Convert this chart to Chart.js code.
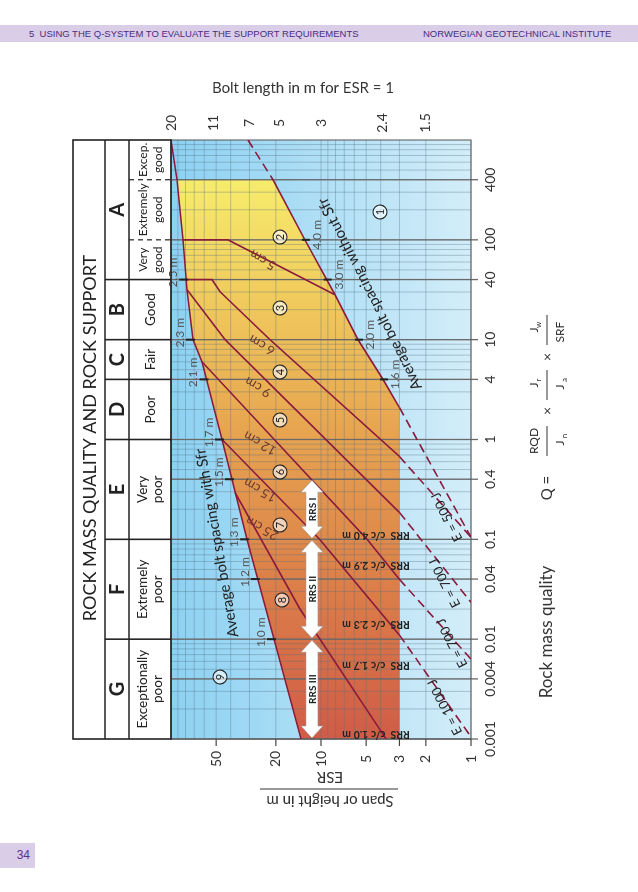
<!DOCTYPE html>
<html><head><meta charset="utf-8">
<script src="https://cdn.jsdelivr.net/npm/chart.js@4"></script>
<style>
html,body{margin:0;padding:0;width:638px;height:892px;overflow:hidden;background:#fff;font-family:Lato,"DejaVu Sans",sans-serif}
#rot{position:absolute;left:0;top:892px;width:892px;height:638px;transform-origin:0 0;transform:rotate(-90deg)}
#hdr{position:absolute;left:0;top:25px;width:638px;height:17px;background:#d9cde8;font-family:"Liberation Sans Narrow","Liberation Sans",sans-serif;font-size:9.5px;color:#4b2c7e;line-height:17px;z-index:2}
#hdr .l{position:absolute;left:29px}
#hdr .r{position:absolute;left:423px}
#pg{position:absolute;left:0;top:843px;width:35px;height:25px;background:#d9cde8;color:#5a338e;font-family:"Liberation Sans Narrow",sans-serif;font-size:12px;line-height:25px;text-align:right;box-sizing:border-box;padding-right:5px;z-index:2}
</style></head><body>
<div id="hdr"><span class="l">5&nbsp; USING THE Q-SYSTEM TO EVALUATE THE SUPPORT REQUIREMENTS</span><span class="r">NORWEGIAN GEOTECHNICAL INSTITUTE</span></div>
<div id="pg">34</div>
<div id="rot"><canvas id="c" width="892" height="638"></canvas></div>
<script>
// ---- data (Q = rock mass quality, span = span/ESR) ----
const Q_TICKS=[0.001,0.004,0.01,0.04,0.1,0.4,1,4,10,40,100,400];
const Q_TICK_LABELS=['0.001','0.004','0.01','0.04','0.1','0.4','1','4','10','40','100','400'];
const SPAN_TICKS=[1,2,3,5,10,20,50];
const BOLT_LEN_LABELS=['20','11','7','5','3','2.4','1.5'];
const BOLT_LEN_SPANS=[100,52,30,19,10,3.9,2];

const withSfrQ=[0.001,0.1,1,6,10,31.6,100,400,1000];
const withSfrSpan=[13.6,31.1,45.7,62.1,71.3,78.2,83.2,91.2,100];
const noSfrQ=[400,100,28.2,10,4,2.09];
const noSfrSpan=[20.9,12.8,8.07,5.67,3.86,3];
const noSfrTopQ=[1000,400], noSfrTopSpan=[30.7,20.9];
const noSfrLowQ=[2.09,0.105], noSfrLowSpan=[3,1];
const l23Q=[100,100,28.2], l23Span=[83.2,41.7,8.07];
const l34Q=[40,40,30.2,10,0.676], l34Span=[79.4,53.3,47.1,21.9,3];
const l45Q=[31.6,10,0.186], l45Span=[78.2,43.6,3];
const l56Q=[6,0.1,0.0398], l56Span=[62.1,4.93,3];
const l67Q=[1,0.1,0.011], l67Span=[45.7,10.2,3];
const l78Q=[0.295,0.02,0.001], l78Span=[37.4,13.8,3.68];
const e500Q=[0.676,0.105], e500Span=[3,1];
const e700aQ=[0.186,0.0234], e700aSpan=[3,1];
const e700bQ=[0.0398,0.0063], e700bSpan=[3,1];
const e1000Q=[0.011,0.00105], e1000Span=[3,1];
const fillFloorQ=[2.09,0.001], fillFloorSpan=[3,3];
const withSfrLabelQ=[0.01,0.04,0.1,0.4,1,4,10,40];
const withSfrLabels=['1.0 m','1.2 m','1.3 m','1.5 m','1.7 m','2.1 m','2.3 m','2.5 m'];
const noSfrLabelQ=[100,40,10,4];
const noSfrLabels=['4.0 m','3.0 m','2.0 m','1.6 m'];
const rrsQ=[[0.4,0.1],[0.1,0.01],[0.01,0.001]];
const rrsNames=['RRS I','RRS II','RRS III'];
const rrsCcQ=[0.11,0.055,0.014,0.0055,0.0011];
const rrsCcLabels=['RRS  c/c 4.0 m','RRS  c/c 2.9 m','RRS  c/c 2.3 m','RRS  c/c 1.7 m','RRS  c/c 1.0 m'];
const qualityRows=[[0.001,0.01,'Exceptionally','poor'],[0.01,0.1,'Extremely','poor'],[0.1,1,'Very','poor'],[1,4,'Poor'],[4,10,'Fair'],[10,40,'Good'],[40,100,'Very','good'],[100,400,'Extremely','good'],[400,1000,'Excep.','good']];
const classRows=[[0.001,0.01,'G'],[0.01,0.1,'F'],[0.1,1,'E'],[1,4,'D'],[4,10,'C'],[10,40,'B'],[40,1000,'A']];

const MAROON='#8b1a3c';
function mk(q,s,dash){return {data:q.map((v,i)=>({x:v,y:s[i]})),showLine:true,pointRadius:0,borderColor:MAROON,borderWidth:1.6,borderDash:dash?[9,5]:[],fill:false,tension:0};}

const FONT='Lato,"DejaVu Sans",sans-serif';
function T(ctx,s,u,v,ang,font,color,align,base){ctx.save();ctx.translate(u,v);ctx.rotate(ang*Math.PI/180);ctx.font=font;ctx.fillStyle=color||'#222';ctx.textAlign=align||'center';ctx.textBaseline=base||'middle';ctx.fillText(s,0,0);ctx.restore();}
function TP(ctx,s,px,py,angPage,font,color,align,base){T(ctx,s,892-py,px,angPage+90,font,color,align,base);}
function LP(ctx,x1,y1,x2,y2){ctx.beginPath();ctx.moveTo(892-y1,x1);ctx.lineTo(892-y2,x2);ctx.stroke();}
function interpLog(qs,ss,q){const lq=Math.log10(q);for(let i=0;i<qs.length-1;i++){const a=Math.log10(qs[i]),b=Math.log10(qs[i+1]);if((lq-a)*(lq-b)<=0&&a!==b){const t=(lq-a)/(b-a);return Math.pow(10,Math.log10(ss[i])+t*(Math.log10(ss[i+1])-Math.log10(ss[i])));}}return ss[0];}

const plug={id:'q',
beforeDatasetsDraw(c){
 const ctx=c.ctx,xs=c.scales.x,ys=c.scales.y,X=v=>xs.getPixelForValue(v),Y=v=>ys.getPixelForValue(v);
 const L=X(0.001),R=X(1000),TT=Y(100),B=Y(1);
 ctx.save();
 let g=ctx.createLinearGradient(0,TT,0,B);g.addColorStop(0,'#8cd1f2');g.addColorStop(1,'#d3edf9');
 ctx.fillStyle=g;ctx.fillRect(L,TT,R-L,B-TT);
 const pq=withSfrQ.slice(0,8).concat(noSfrQ,fillFloorQ.slice(1)), ps=withSfrSpan.slice(0,8).concat(noSfrSpan,fillFloorSpan.slice(1));
 g=ctx.createLinearGradient(X(400),0,X(0.001),0);
 g.addColorStop(0,'#f7ec6c');g.addColorStop(0.22,'#f0c95c');g.addColorStop(0.45,'#e7a450');g.addColorStop(0.72,'#dc7f49');g.addColorStop(1,'#d05c47');
 ctx.fillStyle=g;ctx.beginPath();pq.forEach((q,i)=>{const u=X(q),v=Y(ps[i]);i?ctx.lineTo(u,v):ctx.moveTo(u,v);});ctx.closePath();ctx.fill();
 ctx.strokeStyle='rgba(80,110,130,0.45)';ctx.lineWidth=0.8;
 for(let n=-3;n<=2;n++)for(let k=1;k<=9;k++){const u=X(k*Math.pow(10,n));ctx.beginPath();ctx.moveTo(u,TT);ctx.lineTo(u,B);ctx.stroke();}
 for(let n=0;n<=1;n++)for(let k=1;k<=9;k++){const v=Y(k*Math.pow(10,n));ctx.beginPath();ctx.moveTo(L,v);ctx.lineTo(R,v);ctx.stroke();}
 ctx.strokeStyle='#6a6a6a';ctx.lineWidth=1.3;
 Q_TICKS.forEach(q=>{const u=X(q);ctx.beginPath();ctx.moveTo(u,TT);ctx.lineTo(u,B+7);ctx.stroke();});
 ctx.strokeStyle='#555';ctx.lineWidth=1;ctx.strokeRect(L,TT,R-L,B-TT);
 ctx.restore();
},
afterDatasetsDraw(c){
 const ctx=c.ctx,xs=c.scales.x,ys=c.scales.y,X=v=>xs.getPixelForValue(v),Y=v=>ys.getPixelForValue(v);
 const L=X(0.001),R=X(1000),TT=Y(100),B=Y(1);
 ctx.save();
 ctx.strokeStyle='#222';ctx.lineWidth=2;
 withSfrLabelQ.forEach((q,i)=>{const u=X(q),v=Y(interpLog(withSfrQ,withSfrSpan,q));ctx.beginPath();ctx.moveTo(u,v-7);ctx.lineTo(u,v+2);ctx.stroke();
   T(ctx,withSfrLabels[i],u+7,v-13,0,'12px '+FONT,'#555');});
 noSfrLabelQ.forEach((q,i)=>{const u=X(q),v=Y(interpLog(noSfrQ,noSfrSpan,q));ctx.beginPath();ctx.moveTo(u,v-3);ctx.lineTo(u,v+5);ctx.stroke();
   T(ctx,noSfrLabels[i],u+5,v+12,0,'12px '+FONT,'#555');});
 TP(ctx,'Average bolt spacing with Sfr',217,543,-100,'15px '+FONT,'#222');
 TP(ctx,'Average bolt spacing without Sfr',370,294,-116.7,'15px '+FONT,'#222');
 [['5 cm',263,260],['6 cm',262,345],['9 cm',258,387],['12 cm',260,443],['15 cm',260,490],['25 cm',262,528]].forEach(a=>TP(ctx,a[0],a[1],a[2],-150,'13px '+FONT,'#6b3a30'));
 [['E = 500 J',447,517],['E = 700 J',445,583],['E = 700 J',452,643],['E = 1000 J',445,707]].forEach(a=>TP(ctx,a[0],a[1],a[2],-117,'13px '+FONT,'#222'));
 [[1,380,212],[2,280,237],[3,280,308],[4,280,372],[5,280,420],[6,280,472],[7,280,525],[8,282,600],[9,220,677]].forEach(a=>{
   const u=892-a[2],v=a[1];ctx.beginPath();ctx.arc(u,v,7,0,Math.PI*2);ctx.fillStyle='rgba(255,255,255,0.6)';ctx.fill();ctx.strokeStyle='#222';ctx.lineWidth=1.2;ctx.stroke();
   T(ctx,String(a[0]),u,v+0.5,0,'11px '+FONT,'#222');});
 const vs=Y(11.5);
 rrsQ.forEach((r,i)=>{const u1=X(r[0])-1,u2=X(r[1])+1,hw=11,sw=6,hl=12;
   ctx.beginPath();ctx.moveTo(u1,vs);ctx.lineTo(u1-hl,vs-hw);ctx.lineTo(u1-hl,vs-sw);ctx.lineTo(u2+hl,vs-sw);ctx.lineTo(u2+hl,vs-hw);ctx.lineTo(u2,vs);
   ctx.lineTo(u2+hl,vs+hw);ctx.lineTo(u2+hl,vs+sw);ctx.lineTo(u1-hl,vs+sw);ctx.lineTo(u1-hl,vs+hw);ctx.closePath();
   ctx.fillStyle='#fff';ctx.fill();ctx.strokeStyle='#999';ctx.lineWidth=0.6;ctx.stroke();
   T(ctx,rrsNames[i],(u1+u2)/2,vs+1,0,'bold 10px '+FONT,'#222');});
 rrsCcQ.forEach((q,i)=>T(ctx,rrsCcLabels[i],X(q),Y(4.3),-90,'bold 10.5px '+FONT,'#222'));
 Q_TICKS.forEach((q,i)=>T(ctx,Q_TICK_LABELS[i],X(q),490,0,'14px '+FONT,'#333'));
 ctx.strokeStyle='#444';ctx.lineWidth=1.2;
 SPAN_TICKS.forEach(s=>{const v=Y(s);ctx.beginPath();ctx.moveTo(L,v);ctx.lineTo(L-7,v);ctx.stroke();T(ctx,String(s),L-20,v,0,'14px '+FONT,'#333');});
 BOLT_LEN_SPANS.forEach((s,i)=>T(ctx,BOLT_LEN_LABELS[i],892-123,Y(s),0,'14px '+FONT,'#333'));
 TP(ctx,'Bolt length in m for ESR = 1',303,88,0,'15px '+FONT,'#333');
 TP(ctx,'Span or height in m',330,801,180,'15px '+FONT,'#333');
 TP(ctx,'ESR',330,777,180,'15px '+FONT,'#333');
 ctx.strokeStyle='#333';ctx.lineWidth=1;LP(ctx,260,789,398,789);
 TP(ctx,'Rock mass quality',547,632,-90,'17px '+FONT,'#333');
 TP(ctx,'Q =',547,488,-90,'15px '+FONT,'#333');
 const frac=(num,den,dsub,py,nsub)=>{TP(ctx,num,534,py,-90,'12px '+FONT,'#333');
   LP(ctx,547,py+15,547,py-15);
   TP(ctx,den,560,py+2,-90,'12px '+FONT,'#333');
   if(dsub)TP(ctx,dsub,564,py-4,-90,'8px '+FONT,'#333');
   if(nsub)TP(ctx,nsub,538,py-4,-90,'8px '+FONT,'#333');};
 frac('RQD','J',' n',441);
 TP(ctx,'×',547,411,-90,'14px '+FONT,'#333');
 frac('J','J',' a',385,' r');
 TP(ctx,'×',547,357,-90,'14px '+FONT,'#333');
 frac('J','SRF','',330,' w');
 const py=q=>892-X(q);
 ctx.strokeStyle='#222';ctx.lineWidth=1.6;
 ctx.strokeRect(892-py(0.001),73,py(0.001)-py(1000),98);
 LP(ctx,105,py(1000),105,py(0.001));LP(ctx,129,py(1000),129,py(0.001));
 [40,10,4,1,0.1,0.01].forEach(q=>LP(ctx,105,py(q),171,py(q)));
 ctx.setLineDash([5,4]);ctx.lineWidth=1.2;[400,100].forEach(q=>LP(ctx,129,py(q),171,py(q)));ctx.setLineDash([]);
 TP(ctx,'ROCK MASS QUALITY AND ROCK SUPPORT',90,438,-90,'18px '+FONT,'#222');
 classRows.forEach(r=>TP(ctx,r[2],118,(py(r[0])+py(r[1]))/2,-90,'bold 20px '+FONT,'#222'));
 qualityRows.forEach(r=>{const m=(py(r[0])+py(r[1]))/2,f=(r[0]>=40?'12px ':'13.5px ')+FONT;
   if(r.length===4){TP(ctx,r[2],143,m,-90,f,'#222');TP(ctx,r[3],158,m,-90,f,'#222');}else TP(ctx,r[2],151,m,-90,f,'#222');});
 ctx.restore();
}};
const ds=[mk(withSfrQ,withSfrSpan),mk(noSfrQ,noSfrSpan),mk(noSfrTopQ,noSfrTopSpan,true),mk(noSfrLowQ,noSfrLowSpan,true),
 mk(l23Q,l23Span),mk(l34Q,l34Span),mk(l45Q,l45Span),mk(l56Q,l56Span),mk(l67Q,l67Span),mk(l78Q,l78Span),
 mk(e500Q,e500Span,true),mk(e700aQ,e700aSpan,true),mk(e700bQ,e700bSpan,true),mk(e1000Q,e1000Span,true)];
new Chart(document.getElementById('c'),{type:'scatter',data:{datasets:ds},plugins:[plug],
 options:{responsive:false,animation:false,devicePixelRatio:1,events:[],
  layout:{padding:{left:153,right:140,top:171,bottom:167}},
  plugins:{legend:{display:false},tooltip:{enabled:false}},
  scales:{x:{type:'logarithmic',min:0.001,max:1000,ticks:{display:false},grid:{display:false},border:{display:false},afterFit(s){s.height=0;}},
          y:{type:'logarithmic',min:1,max:100,ticks:{display:false},grid:{display:false},border:{display:false},afterFit(s){s.width=0;}}}}});
</script></body></html>
